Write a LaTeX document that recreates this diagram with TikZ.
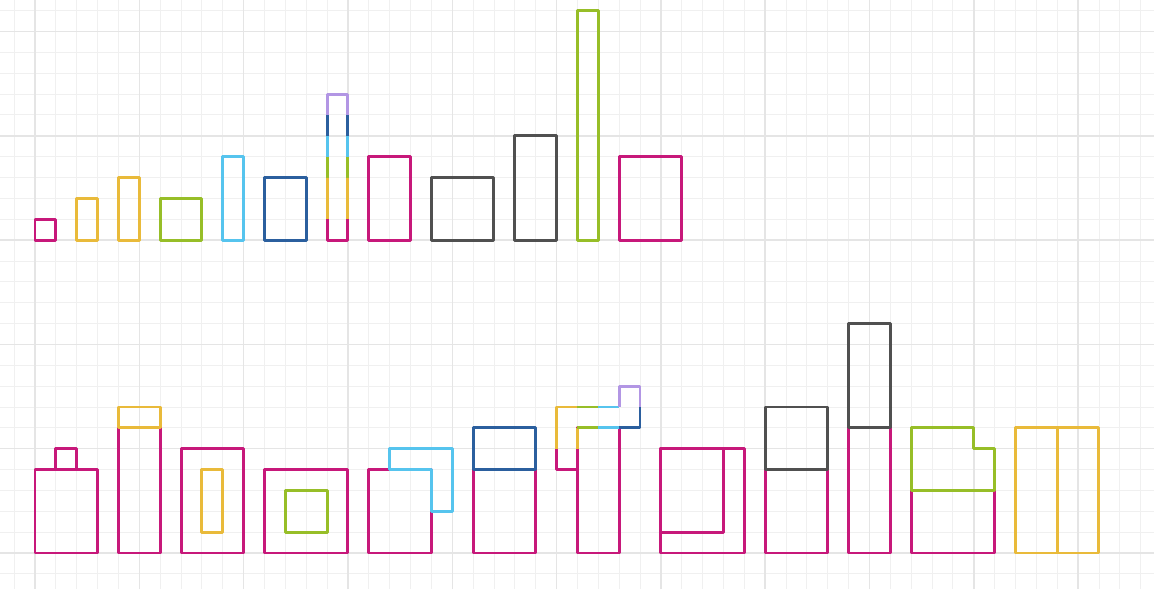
\documentclass[tikz,border=0pt]{standalone}
\usepackage{tikz}
\definecolor{rmag}{RGB}{199,24,122}
\definecolor{ryel}{RGB}{233,186,58}
\definecolor{rgrn}{RGB}{151,190,40}
\definecolor{rcya}{RGB}{86,196,238}
\definecolor{rblu}{RGB}{43,95,158}
\definecolor{rpur}{RGB}{178,150,228}
\definecolor{rgry}{RGB}{80,80,80}
\definecolor{gminor}{RGB}{240,240,240}
\definecolor{gmajor}{RGB}{229,229,229}

\begin{document}
\begin{tikzpicture}[
            x = 0.5cm, y = 0.5cm, % one grid square
            line width = 2pt, % rod outline
            line join = round
        ]

        \tikzset{
            mag/.style = {draw = rmag},
            yel/.style = {draw = ryel},
            grn/.style = {draw = rgrn},
            cya/.style = {draw = rcya},
            blu/.style = {draw = rblu},
            pur/.style = {draw = rpur},
            gry/.style = {draw = rgry},
            minorgrid/.style = {draw = gminor, line width = 0.6pt, step = 1},
            majorgrid/.style = {draw = gmajor, line width = 1pt, step = 5}
        }

        \useasboundingbox (-1.678,-1.726) rectangle (53.64,26.51);
        \fill[white] (-1.678,-1.726) rectangle (53.64,26.51);

% grid paper
        \path[minorgrid] (-1.678,-1.726) grid (53.64,26.51);
        \path[majorgrid] (-1.678,-1.726) grid (53.64,26.51);

% top row, single rods
        \draw[mag] (0,15) rectangle (1,16);
        \draw[yel] (2,15) rectangle (3,17);
        \draw[yel] (4,15) rectangle (5,18);
        \draw[grn] (6,15) rectangle (8,17);
        \draw[cya] (9,15) rectangle (10,19);
        \draw[blu] (11,15) rectangle (13,18);

        % stacked rod
        \draw[mag] (14,16) -- (14,15) -- (15,15) -- (15,16);
        \foreach \lo/\hi/\col in {16/18/yel, 18/19/grn, 19/20/cya, 20/21/blu}
            \draw[\col] (14,\lo) -- (14,\hi) (15,\lo) -- (15,\hi);
        \draw[pur] (14,21) -- (14,22) -- (15,22) -- (15,21);

        \draw[mag] (16,15) rectangle (18,19);
        \draw[gry] (19,15) rectangle (22,18);
        \draw[gry] (23,15) rectangle (25,20);
        \draw[grn] (26,15) rectangle (27,26);
        \draw[mag] (28,15) rectangle (31,19);

% bottom row
        \draw[mag] (0,0) rectangle (3,4);
        \draw[mag] (1,4) rectangle (2,5);

        \draw[mag] (4,0) rectangle (6,6);
        \draw[yel] (4,6) rectangle (6,7);

        \draw[mag] (7,0) rectangle (10,5);
        \draw[yel] (8,1) rectangle (9,4);

        \draw[mag] (11,0) rectangle (15,4);
        \draw[grn] (12,1) rectangle (14,3);

        \draw[mag] (16,0) rectangle (19,4);
        \draw[cya] (17,4) -- (17,5) -- (20,5) -- (20,2) -- (19,2) -- (19,4) -- cycle;

        \draw[mag] (21,0) rectangle (24,4);
        \draw[blu] (21,4) rectangle (24,6);

        % bent rod
        \draw[mag] (26,0) rectangle (28,6);
        \draw[mag] (25,5) -- (25,4) -- (26,4) -- (26,5);
        \draw[yel] (26,5) -- (26,6) (25,5) -- (25,7) -- (26,7);
        \draw[grn] (26,7) -- (27,7) (26,6) -- (27,6);
        \draw[cya] (27,7) -- (28,7) (27,6) -- (28,6);
        \draw[blu] (28,6) -- (29,6) -- (29,7);
        \draw[pur] (28,7) -- (28,8) -- (29,8) -- (29,7);

        \draw[mag] (30,0) rectangle (34,5);
        \draw[mag] (30,1) rectangle (33,5);

        \draw[mag] (35,0) rectangle (38,4);
        \draw[gry] (35,4) rectangle (38,7);

        \draw[mag] (39,0) rectangle (41,6);
        \draw[gry] (39,6) rectangle (41,11);

        \draw[mag] (42,0) rectangle (46,3);
        \draw[grn] (42,3) -- (42,6) -- (45,6) -- (45,5) -- (46,5) -- (46,3) -- cycle;

        \draw[yel] (47,0) rectangle (49,6);
        \draw[yel] (49,0) rectangle (51,6);

  \end{tikzpicture}
\end{document}
